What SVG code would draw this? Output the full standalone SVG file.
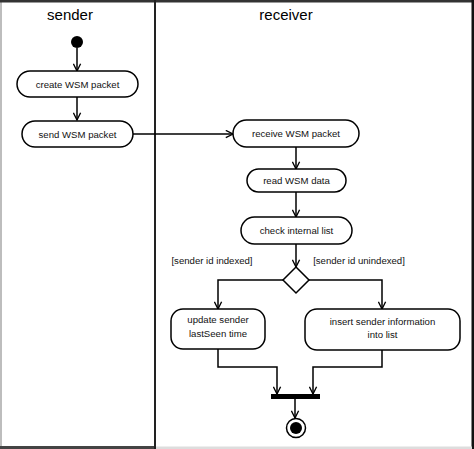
<svg xmlns="http://www.w3.org/2000/svg" width="474" height="449" viewBox="0 0 474 449">
<style>
.node rect{fill:#fff;stroke:#000;stroke-width:1.5}
.t{font-family:"Liberation Sans",Arial,sans-serif;font-size:9.6px;fill:#111;text-anchor:middle}
.h{font-family:"Liberation Sans",Arial,sans-serif;font-size:15px;fill:#000;text-anchor:middle}
.c{fill:none;stroke:#000;stroke-width:1.5}
</style>
<defs>
<marker id="a" viewBox="0 0 10 10" refX="9" refY="5" markerWidth="9" markerHeight="9" markerUnits="userSpaceOnUse" orient="auto">
<path d="M1,1 L9,5 L1,9" fill="none" stroke="#000" stroke-width="1.5"/>
</marker>
</defs>
<rect x="0" y="0" width="474" height="449" fill="#fff"/>
<g id="frame">
<rect x="0" y="0" width="2" height="449" fill="#bdbdbd"/>
<rect x="0" y="0" width="474" height="2.5" fill="#333"/>
<rect x="471.5" y="0" width="2.5" height="449" fill="#111"/>
<rect x="0" y="446" width="155" height="3" fill="#444"/>
<rect x="155" y="446.5" width="317" height="2.5" fill="#ddd"/>
<rect x="154" y="0" width="2" height="449" fill="#222"/>
<text class="h" x="70" y="20">sender</text>
<text class="h" x="286" y="20">receiver</text>
</g>
<g id="connectors">
<path class="c" d="M77,48 V71" marker-end="url(#a)"/>
<path class="c" d="M77,97 V120" marker-end="url(#a)"/>
<path class="c" d="M133,134 H233" marker-end="url(#a)"/>
<path class="c" d="M296,147 V169" marker-end="url(#a)"/>
<path class="c" d="M296,192 V217" marker-end="url(#a)"/>
<path class="c" d="M296,244 V267" marker-end="url(#a)"/>
<path class="c" d="M283,280 H218 V309" marker-end="url(#a)"/>
<path class="c" d="M309,280 H382 V309" marker-end="url(#a)"/>
<path class="c" d="M218,349 V367 H277 V394" marker-end="url(#a)"/>
<path class="c" d="M382,350 V367 H313 V394" marker-end="url(#a)"/>
<path class="c" d="M295,399 V418" marker-end="url(#a)"/>
<text class="t" x="212" y="264">[sender id indexed]</text>
<text class="t" x="359" y="264">[sender id unindexed]</text>
</g>
<g id="start"><circle cx="77" cy="42" r="6" fill="#000"/></g>
<g id="create" class="node"><rect x="17" y="71" width="121" height="26" rx="13"/><text class="t" x="77.5" y="87.5">create WSM packet</text></g>
<g id="send" class="node"><rect x="22" y="121" width="111" height="26" rx="13"/><text class="t" x="77.5" y="137.5">send WSM packet</text></g>
<g id="receive" class="node"><rect x="233" y="120" width="126" height="27" rx="13.5"/><text class="t" x="296" y="137">receive WSM packet</text></g>
<g id="read" class="node"><rect x="247" y="169" width="99" height="23" rx="11.5"/><text class="t" x="296.5" y="184">read WSM data</text></g>
<g id="check" class="node"><rect x="241" y="217" width="111" height="27" rx="13.5"/><text class="t" x="296.5" y="234">check internal list</text></g>
<g id="decision"><polygon points="296,267 309,280 296,293 283,280" fill="#fff" stroke="#000" stroke-width="1.5"/></g>
<g id="update" class="node"><rect x="171" y="309" width="94" height="40" rx="12"/><text class="t" x="218" y="322.5">update sender</text><text class="t" x="218" y="336.5">lastSeen time</text></g>
<g id="insert" class="node"><rect x="305" y="309" width="155" height="41" rx="12"/><text class="t" x="382.5" y="324.5">insert sender information</text><text class="t" x="382.5" y="338">into list</text></g>
<g id="join"><rect x="271" y="394" width="49" height="5" fill="#000"/></g>
<g id="end"><circle cx="296" cy="428" r="9.5" fill="#fff" stroke="#000" stroke-width="1.5"/><circle cx="296" cy="428" r="6" fill="#000"/></g>
</svg>
